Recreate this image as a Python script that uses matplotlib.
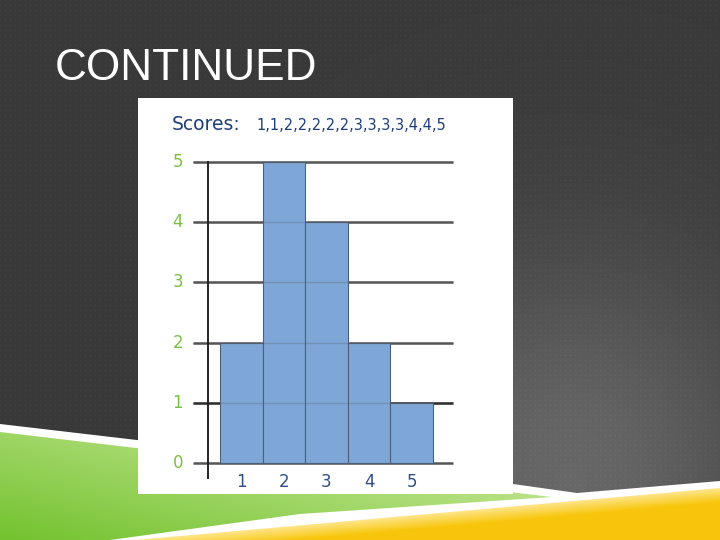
import numpy as np
import matplotlib
matplotlib.use("Agg")
import matplotlib.pyplot as plt
from matplotlib.patches import Rectangle, Polygon

# ---- data ----
scores = [1, 1, 2, 2, 2, 2, 2, 3, 3, 3, 3, 4, 4, 5]
categories = [1, 2, 3, 4, 5]
counts = [scores.count(c) for c in categories]   # 2,5,4,2,1
y_ticks = [0, 1, 2, 3, 4, 5]
slide_title = "CONTINUED"

W, H = 720, 540
fig = plt.figure(figsize=(7.2, 5.4), dpi=100)

# ---- slide background ----
bg = fig.add_axes([0, 0, 1, 1])
bg.set_xlim(0, W)
bg.set_ylim(H, 0)
bg.axis("off")
yy, xx = np.mgrid[0:H, 0:W] + 0.5
v = 0.225 + 0.18 * np.exp(-(((xx - 570) / 210.0) ** 2 + ((yy - 480) / 230.0) ** 2))
dots = ((np.floor(xx) % 5 == 0) & (np.floor(yy) % 5 == 0))
v = v + 0.045 * dots
bg.imshow(np.dstack([v, v, v]), extent=(0, W, H, 0), interpolation="nearest",
          zorder=0, aspect="auto")

# white under-layer for swooshes
bg.add_patch(Polygon([(0, 424), (513, 484), (577, 493), (720, 481), (720, 540), (0, 540)],
                     closed=True, facecolor="white", edgecolor="none", zorder=1))

# green swoosh with gradient
gpoly = Polygon([(0, 432), (552, 497), (300, 514), (110, 540), (0, 540)], closed=True,
                facecolor="none", edgecolor="none", zorder=1.5)
bg.add_patch(gpoly)
t = np.clip((xx / 560.0) * 0.6 + ((540 - yy) / 110.0) * 0.5, 0, 1)
light = np.array([0.80, 0.92, 0.62])
dark = np.array([0.45, 0.76, 0.18])
gimg = dark[None, None, :] * (1 - t[..., None]) + light[None, None, :] * t[..., None]
gi = bg.imshow(gimg, extent=(0, W, H, 0), interpolation="bilinear", zorder=1.5, aspect="auto")
gi.set_clip_path(gpoly)

# yellow swoosh with gradient
ypoly = Polygon([(135, 540), (360, 520), (720, 488), (720, 540)], closed=True,
                facecolor="none", edgecolor="none", zorder=1.6)
bg.add_patch(ypoly)
ytop = 520 - 0.089 * (xx - 360)
d = np.clip((yy - ytop) / 14.0, 0, 1)
ylight = np.array([1.0, 0.90, 0.55])
ydark = np.array([0.97, 0.78, 0.05])
yimg = ylight[None, None, :] * (1 - d[..., None]) + ydark[None, None, :] * d[..., None]
yi = bg.imshow(yimg, extent=(0, W, H, 0), interpolation="bilinear", zorder=1.6, aspect="auto")
yi.set_clip_path(ypoly)

# white picture panel
bg.add_patch(Rectangle((138, 98), 375, 396, facecolor="white", edgecolor="none", zorder=2))

bg.text(55, 68, slide_title, color="white", fontsize=31.8, family="Liberation Sans",
        ha="left", va="center", zorder=3)
bg.text(172, 124, "Scores:", color="#1f3f7a", fontsize=13.5, ha="left", va="center", zorder=3)
bg.text(256, 126, ",".join(str(s) for s in scores), color="#1f3f7a", fontsize=10.5,
        ha="left", va="center", zorder=3)

# ---- histogram axes ----
ax = fig.add_axes([160 / W, (H - 495) / H, 310 / W, 345 / H])
ax.set_xlim(0.5 + (160 - 220) / 42.6, 0.5 + (470 - 220) / 42.6)
ax.set_ylim((463 - 495) / 60.2, (463 - 150) / 60.2)
ax.axis("off")
ax.patch.set_alpha(0)

for yv in y_ticks:
    ax.plot([-0.13, 5.97], [yv, yv], color="#222222" if yv == 1 else "#555555",
            lw=1.8, zorder=1, solid_capstyle="butt")
ax.bar(categories, counts, width=1.0, color="#7ea6d6", edgecolor="#4d5f78",
       linewidth=0.8, zorder=2)
for yv in y_ticks[1:]:
    ax.plot([-0.13, 5.97], [yv, yv], color="#555555", lw=1.0, alpha=0.25, zorder=3)
ax.plot([0.22, 0.22], [-0.25, 5.0], color="#222222", lw=1.4, zorder=4)

for yv in y_ticks:
    ax.text(-0.49, yv, str(yv), color="#7ac143", fontsize=12, ha="center", va="center")
for c in categories:
    ax.text(c, -0.32, str(c), color="#2f4f86", fontsize=12, ha="center", va="center")

fig.savefig("out.png", dpi=100)
